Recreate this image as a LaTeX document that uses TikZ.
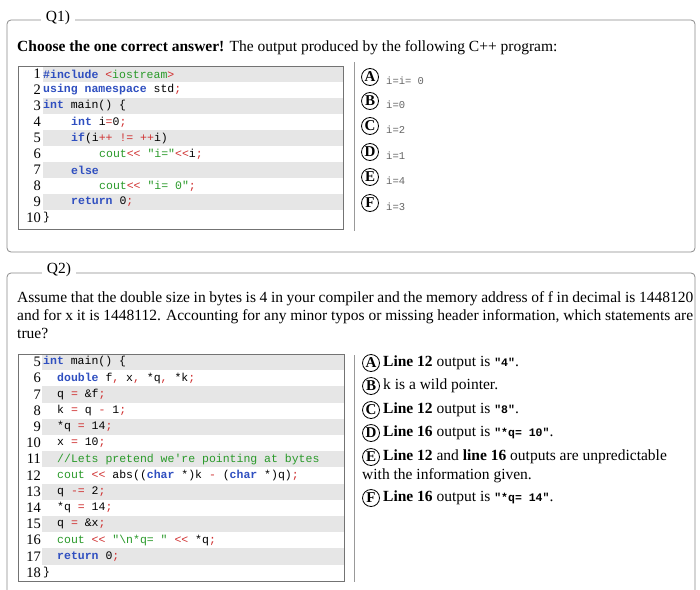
\documentclass[tikz,border=0pt]{standalone}
\usepackage{fontspec}
\setmainfont{Liberation Serif}
\newfontfamily\cmono{Liberation Mono}
\definecolor{kwc}{HTML}{2F4FC0}
\definecolor{stc}{HTML}{2A9A2A}
\definecolor{puc}{HTML}{D03030}
\definecolor{stripe}{HTML}{E6E6E6}
\definecolor{framec}{HTML}{8A8A8A}
\newcommand{\kw}[1]{\textcolor{kwc}{\bfseries #1}}
\newcommand{\st}[1]{\textcolor{stc}{#1}}
\newcommand{\pu}[1]{\textcolor{puc}{#1}}
\newcommand{\cb}[1]{{\cmono\bfseries\fontsize{11.5}{12}\selectfont #1}}
\tikzset{
 frame/.style={draw=framec,line width=0.8pt,rounded corners=4pt},
 qlabel/.style={fill=white,inner xsep=5pt,font=\fontsize{15.5}{17}\selectfont},
 code/.style={anchor=west,inner sep=0pt,font=\cmono\fontsize{11.5}{13}\selectfont},
 lnum/.style={anchor=east,inner sep=0pt,font=\fontsize{14.5}{15}\selectfont},
 optc/.style={circle,draw,line width=0.8pt,inner sep=0.4pt,minimum size=17pt,font=\bfseries\fontsize{15}{15}\selectfont},
 optt1/.style={anchor=west,inner sep=0pt,font=\cmono\fontsize{10.5}{11}\selectfont,text=black!60},
 optt2/.style={anchor=west,inner sep=0pt,font=\fontsize{15.5}{16}\selectfont},
 para/.style={anchor=north west,inner sep=0pt,text width=676pt,align=justify,font=\fontsize{15.5}{18.2}\selectfont},
 sep/.style={draw=black!40,line width=0.8pt}
}
\begin{document}
\begin{tikzpicture}[x=1pt,y=-1pt]
\useasboundingbox[fill=white] (0,0) rectangle (700,589);
% ---------- Q1 ----------
\draw[frame] (7,20) rectangle (695,252);
\node[qlabel] (q1l) at (58,18) {Q1)};
\node[anchor=west,inner sep=0pt,font=\fontsize{15.5}{17}\selectfont] (q1t) at (17,48) {\textbf{Choose the one correct answer!} The output produced by the following C++ program:};
\foreach \r in {0,2,4,6,8} \fill[stripe] (43,{66+16*\r}) rectangle (343,{82+16*\r});
\draw[black!55,line width=0.9pt] (18,66) rectangle (343,229);
\foreach \n in {1,...,10} \node[lnum] (a\n) at (41,{74+16*(\n-1)}) {\n};
\node[code] (c1) at (43,74) {\kw{\#include} \pu{<}\st{iostream}\pu{>}};
\node[code] (c2) at (43,90) {\kw{using namespace} std\pu{;}};
\node[code] (c3) at (43,106) {\kw{int} main() \{};
\node[code] (c4) at (71,122) {\kw{int} i\pu{=}0\pu{;}};
\node[code] (c5) at (71,138) {\kw{if}(i\pu{++} \pu{!=} \pu{++}i)};
\node[code] (c6) at (99,154) {\st{cout}\pu{<<} \st{"i="}\pu{<<}i\pu{;}};
\node[code] (c7) at (71,170) {\kw{else}};
\node[code] (c8) at (99,186) {\st{cout}\pu{<<} \st{"i= 0"}\pu{;}};
\node[code] (c9) at (71,202) {\kw{return} 0\pu{;}};
\node[code] (c10) at (43,218) {\}};
\draw[sep] (354,62) -- (354,231);
\foreach \L/\y/\t in {A/77/{i=i= 0},B/101/{i=0},C/126/{i=2},D/152/{i=1},E/177/{i=4},F/203/{i=3}}{
 \node[optc] (o1\L) at (370,\y) {\L};
 \node[optt1] (t1\L) at (386,\y+4) {\t};
}
% ---------- Q2 ----------
\draw[frame] (7,273) rectangle (695,600);
\node[qlabel] (q2l) at (59,270) {Q2)};
\node[para] (q2t) at (17,291) {Assume that the double size in bytes is 4 in your compiler and the memory address of f in decimal is 1448120 and for x it is 1448112. Accounting for any minor typos or missing header information, which statements are true?};
\foreach \r in {0,2,...,12} \fill[stripe] (42,{354+16.2*\r}) rectangle (344,{370.2+16.2*\r});
\draw[black!55,line width=0.9pt] (18,354) rectangle (344,581);
\foreach \n [evaluate=\n as \yy using 362+16.2*(\n-5)] in {5,...,18} \node[lnum] (b\n) at (41,\yy) {\n};
\node[code] (d5) at (43,362) {\kw{int} main() \{};
\node[code] (d6) at (57,378.2) {\kw{double} f\pu{,} x\pu{,} *q\pu{,} *k\pu{;}};
\node[code] (d7) at (57,394.4) {q \pu{=} \&f\pu{;}};
\node[code] (d8) at (57,410.6) {k \pu{=} q \pu{-} 1\pu{;}};
\node[code] (d9) at (57,426.8) {*q \pu{=} 14\pu{;}};
\node[code] (d10) at (57,443) {x \pu{=} 10\pu{;}};
\node[code] (d11) at (57,459.2) {\st{//Lets pretend we're pointing at bytes}};
\node[code] (d12) at (57,475.4) {\st{cout} \pu{<<} abs((\kw{char} *)k \pu{-} (\kw{char} *)q)\pu{;}};
\node[code] (d13) at (57,491.6) {q \pu{-=} 2\pu{;}};
\node[code] (d14) at (57,507.8) {*q \pu{=} 14\pu{;}};
\node[code] (d15) at (57,524) {q \pu{=} \&x\pu{;}};
\node[code] (d16) at (57,540.2) {\st{cout} \pu{<<} \st{"\textbackslash n*q= "} \pu{<<} *q\pu{;}};
\node[code] (d17) at (57,556.4) {\kw{return} 0\pu{;}};
\node[code] (d18) at (43,572.6) {\}};
\draw[sep] (354,355) -- (354,582);
\node[optc] (o2A) at (371,363) {A};
\node[optt2] (t2A) at (383,363) {\textbf{Line 12} output is \cb{"4"}.};
\node[optc] (o2B) at (371,386) {B};
\node[optt2] (t2B) at (383,386) {k is a wild pointer.};
\node[optc] (o2C) at (371,410) {C};
\node[optt2] (t2C) at (383,410) {\textbf{Line 12} output is \cb{"8"}.};
\node[optc] (o2D) at (371,433) {D};
\node[optt2] (t2D) at (383,433) {\textbf{Line 16} output is \cb{"*q= 10"}.};
\node[optc] (o2E) at (371,457) {E};
\node[optt2] (t2E) at (383,457) {\textbf{Line 12} and \textbf{line 16} outputs are unpredictable};
\node[optt2] (t2E2) at (362,476) {with the information given.};
\node[optc] (o2F) at (371,498) {F};
\node[optt2] (t2F) at (383,498) {\textbf{Line 16} output is \cb{"*q= 14"}.};
\end{tikzpicture}
\end{document}
